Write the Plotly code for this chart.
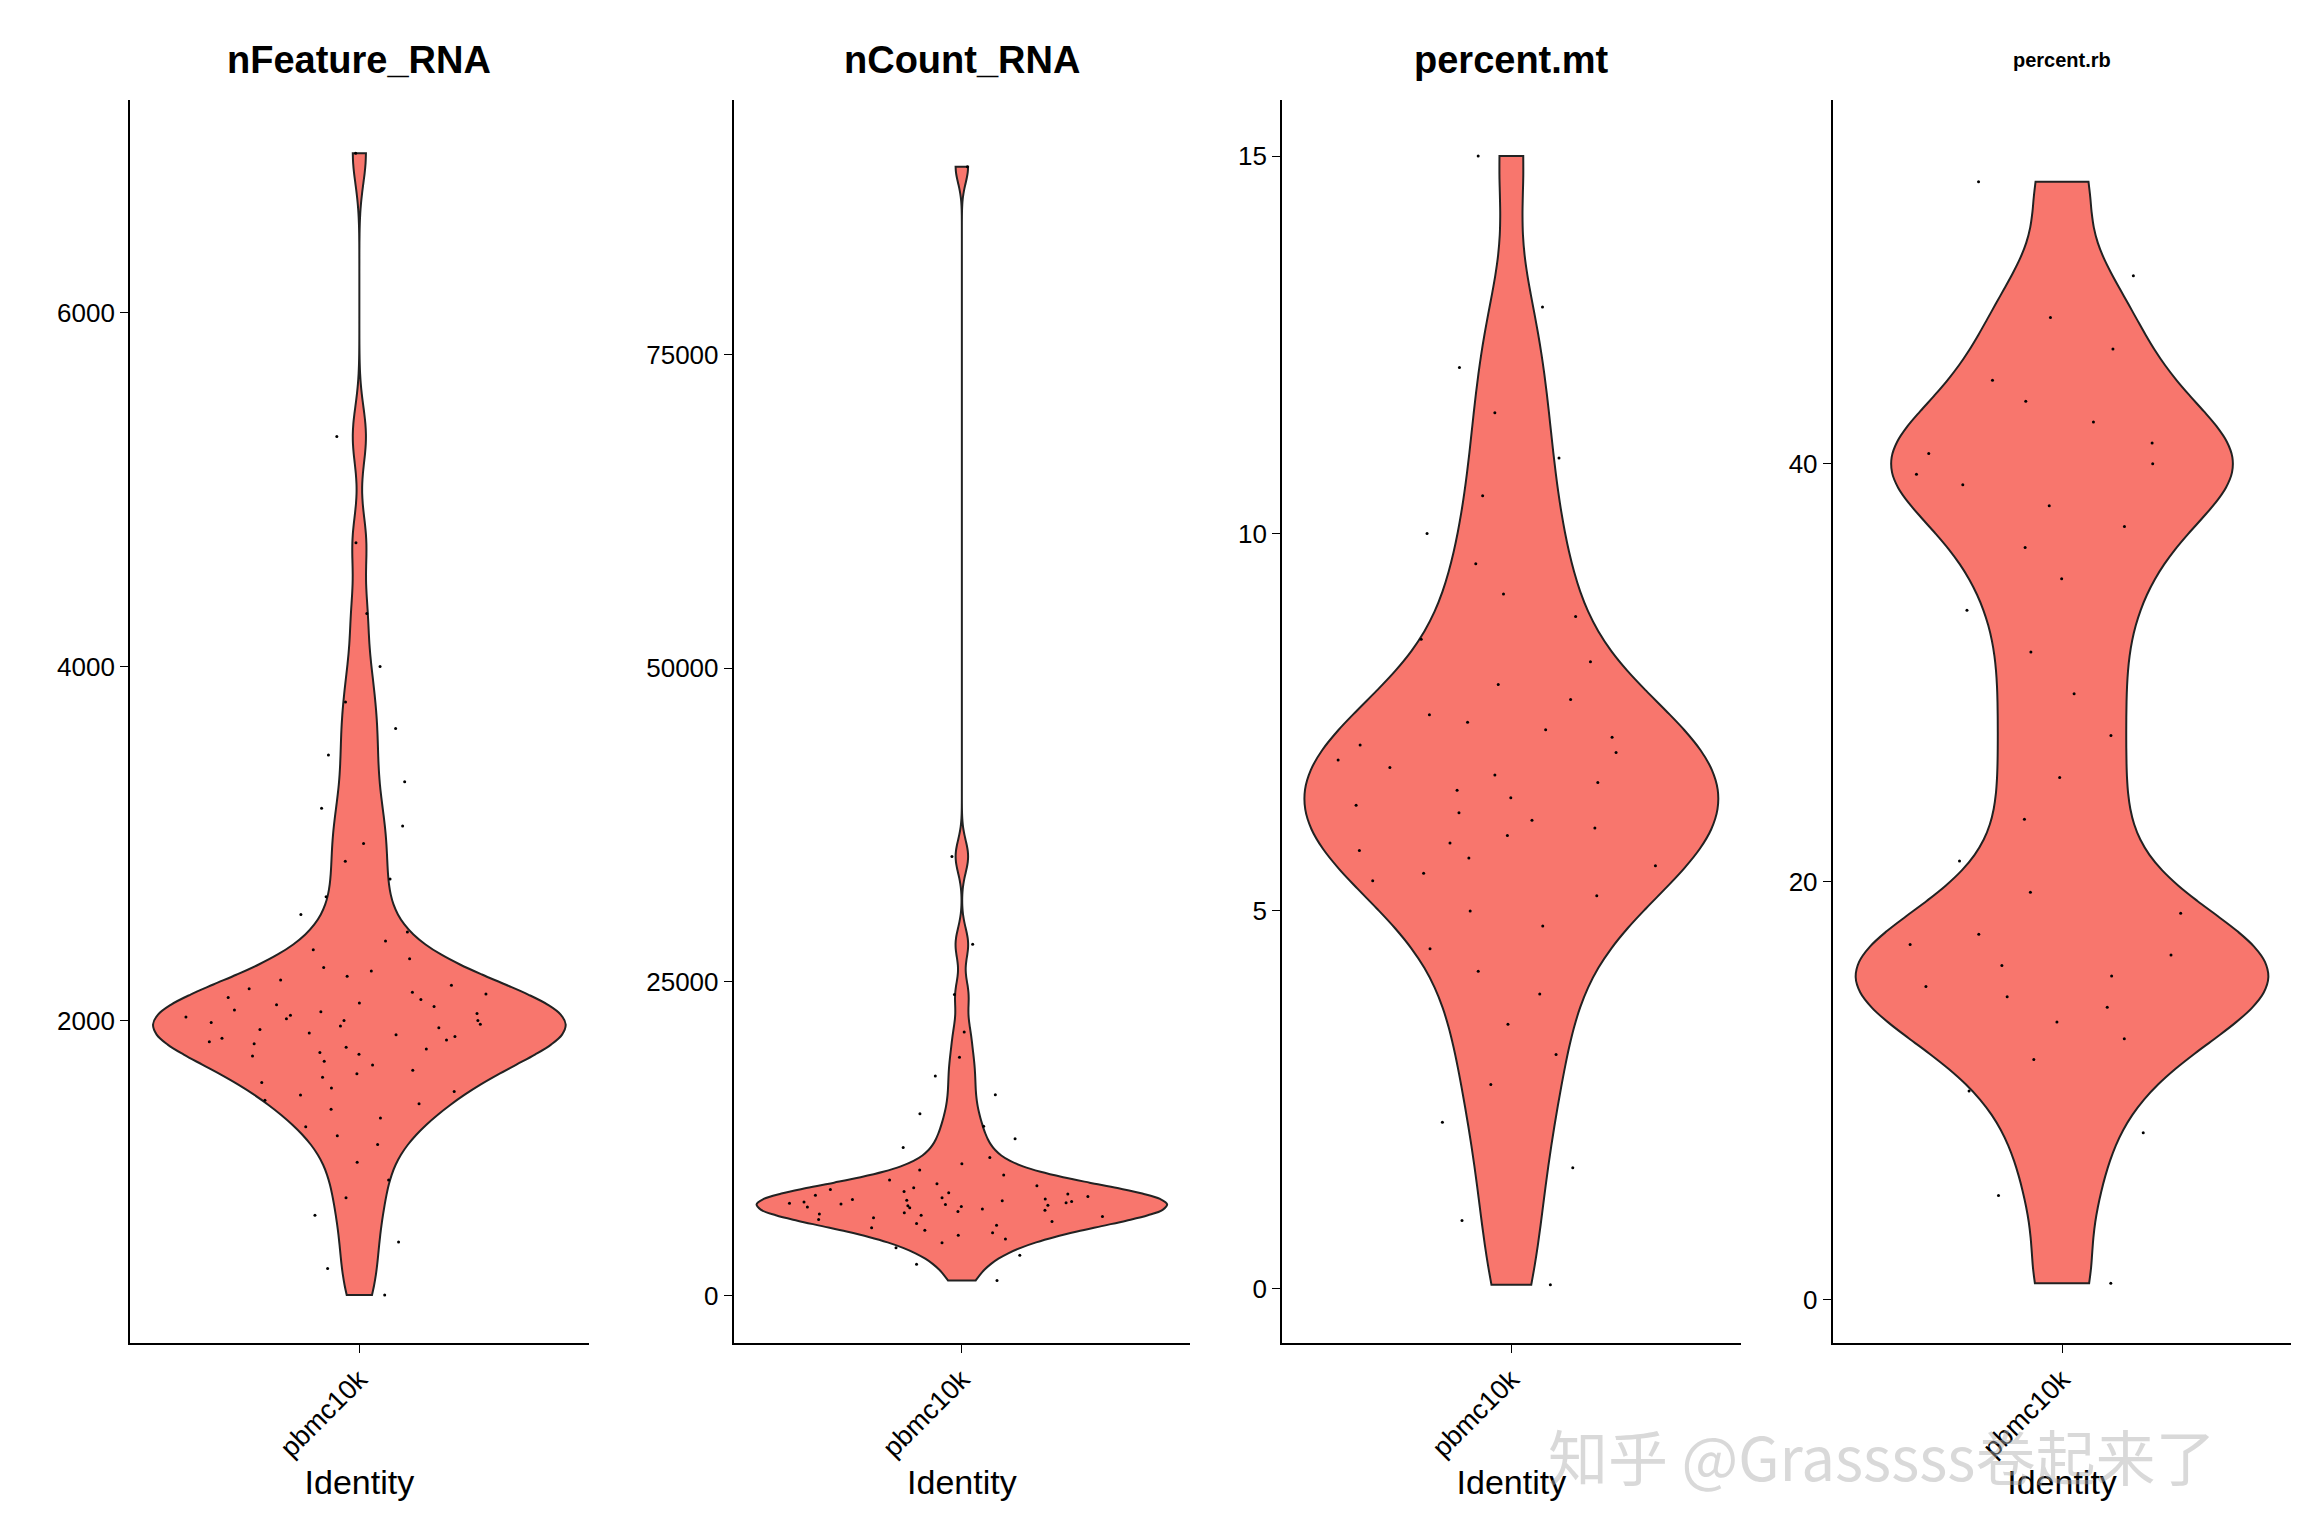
import plotly.graph_objects as go

titles = ["nFeature_RNA", "nCount_RNA", "percent.mt", "percent.rb"]
category = "pbmc10k"
nfeature = [450,600,750,900,1000,1100,1200,1300,1350,1400,1450,1500,1530,1550,1580,1600,1620,1650,1680,1700,1720,1750,1770,1800,1810,1820,1840,1850,1870,1880,1890,1900,1910,1920,1930,1950,1960,1970,1980,1990,2000,2000,2010,2020,2030,2040,2050,2060,2080,2090,2100,2120,2130,2150,2160,2180,2200,2230,2250,2280,2300,2350,2400,2450,2500,2600,2700,2800,2900,3000,3100,3200,3350,3500,3650,3800,4000,4300,4700,5300,6900]
ncount = [1200,2500,3200,3800,4200,4500,4800,5000,5200,5400,5600,5750,5900,6050,6200,6300,6400,6500,6600,6700,6800,6900,7000,7050,7100,7150,7200,7250,7300,7350,7400,7450,7500,7550,7600,7650,7700,7800,7900,8000,8100,8200,8300,8450,8600,8750,8900,9200,9600,10000,10500,11000,11800,12500,13500,14500,16000,17500,19000,21000,24000,28000,35000,90000]
percent_mt = [0.05,0.9,1.6,2.2,2.7,3.1,3.5,3.9,4.2,4.5,4.8,5.0,5.2,5.4,5.5,5.6,5.7,5.8,5.9,6.0,6.1,6.2,6.3,6.4,6.5,6.6,6.7,6.8,6.9,7.0,7.1,7.2,7.3,7.4,7.5,7.6,7.8,8.0,8.3,8.6,8.9,9.2,9.6,10.0,10.5,11.0,11.6,12.2,13.0,15.0]
percent_rb = [0.8,5,8,10,11.5,12.5,13.3,14,14.5,15,15.5,16,16.5,17,17.5,18.5,19.5,21,23,25,27,29,31,33,34.5,36,37,38,39,39.5,40,40.5,41,42,43,44,45.5,47,49,53.5]
series = [nfeature, ncount, percent_mt, percent_rb]
bandwidths = [170, 1300, 0.8, 2.2]
yranges = [[180, 7200], [-3770, 95300], [-0.72, 15.74], [-2.05, 57.4]]
ytickvals = [[2000, 4000, 6000], [0, 25000, 50000, 75000], [0, 5, 10, 15], [0, 20, 40]]
domains = [[0.053, 0.252], [0.315, 0.513], [0.553, 0.752], [0.792, 0.991]]
FONT = "Liberation Sans, Arial"

fig = go.Figure()
for i, vals in enumerate(series):
    n = "" if i == 0 else str(i + 1)
    fig.add_trace(go.Violin(
        x=[category] * len(vals), y=vals, xaxis="x" + n, yaxis="y" + n,
        fillcolor="#F8766D", line=dict(color="#222222", width=2), opacity=1,
        points="all", jitter=0.9, pointpos=0, width=0.76, spanmode="hard",
        bandwidth=bandwidths[i],
        marker=dict(color="black", size=3), box_visible=False, meanline_visible=False,
        showlegend=False, hoverinfo="skip"))
    fig.layout["xaxis" + n] = dict(
        domain=domains[i], anchor="y" + n, showline=True, linecolor="black", linewidth=2,
        ticks="outside", tickcolor="black", ticklen=8, tickangle=-45,
        tickfont=dict(family=FONT, size=27, color="black"),
        title=dict(text="Identity", font=dict(family=FONT, size=34, color="black"), standoff=2),
        showgrid=False, zeroline=False)
    fig.layout["yaxis" + n] = dict(
        domain=[0.131, 0.94], anchor="x" + n, range=yranges[i], tickvals=ytickvals[i],
        tickformat="d",
        showline=True, linecolor="black", linewidth=2, ticks="outside", tickcolor="black", ticklen=8,
        tickfont=dict(family=FONT, size=26, color="black"),
        showgrid=False, zeroline=False)
    fig.add_annotation(x=sum(domains[i]) / 2, y=0.966, xref="paper", yref="paper",
                       xanchor="center", yanchor="middle",
                       text="<b>%s</b>" % titles[i], showarrow=False,
                       font=dict(family=FONT, size=38 if i < 3 else 20, color="black"))

fig.add_annotation(x=0.813, y=0.058, xref="paper", yref="paper", xanchor="center", yanchor="middle",
                   text="知乎 @Grasssss卷起来了",
                   showarrow=False, font=dict(family="Noto Sans CJK SC", size=60, color="rgba(170,170,170,0.45)"))

fig.update_layout(width=2304, height=1536, margin=dict(l=0, r=0, t=0, b=0),
                  paper_bgcolor="white", plot_bgcolor="white")
fig.write_html("out.html")
